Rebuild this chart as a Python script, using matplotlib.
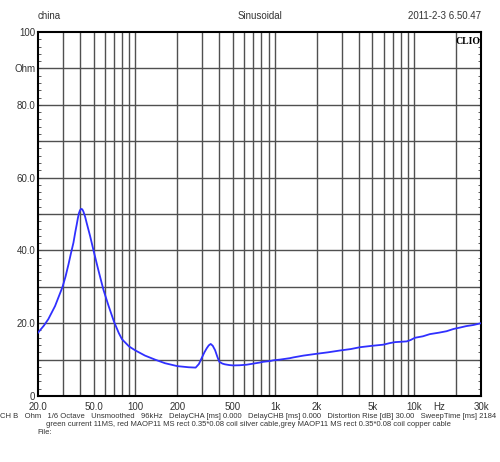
import numpy as np
import matplotlib
matplotlib.use('Agg')
import matplotlib.pyplot as plt
from matplotlib.ticker import FixedLocator, NullFormatter, MultipleLocator

plt.rcParams['font.family'] = ['Liberation Sans', 'DejaVu Sans']

# Impedance curve #
freq = [20, 22, 23.7, 26.5, 28.5, 30, 31.5, 33.1, 34.5, 35.9, 37, 37.9, 38.6, 39.3, 40.0, 40.7,
        41.5, 42.3, 43.5, 44.7, 47.3, 50, 54, 57, 59, 64.2, 70, 75.9, 80, 90, 100, 117, 138,
        163, 200, 240, 270, 285, 298, 312, 324, 335, 346, 358, 372, 386, 399, 420, 438, 470,
        502, 560, 627, 700, 781, 825, 921, 973, 1086, 1282, 1353, 1600, 1990, 2400, 2924,
        3500, 4066, 5000, 5980, 6600, 7250, 8000, 8790, 9400, 10090, 11500, 12900, 15000,
        17000, 19000, 21200, 23500, 26400, 30000]
imp = [17.4, 19.3, 21.1, 24.7, 27.8, 30.0, 32.8, 36.2, 39.3, 42.1, 45.0, 47.1, 48.8, 50.2, 51.0, 51.4,
       51.3, 50.7, 49.3, 47.5, 43.9, 40.0, 34.8, 31.3, 29.1, 24.7, 20.5, 17.3, 15.6, 13.6, 12.5, 11.1, 10.0,
       9.0, 8.2, 7.9, 7.8, 8.8, 10.4, 12.0, 13.1, 13.9, 14.3, 13.8, 12.6, 10.8, 9.4, 8.9, 8.7, 8.5,
       8.4, 8.45, 8.6, 8.9, 9.2, 9.4, 9.6, 9.8, 10.0, 10.4, 10.6, 11.1, 11.6, 12.0, 12.5,
       12.9, 13.4, 13.8, 14.1, 14.5, 14.8, 14.9, 15.0, 15.4, 16.0, 16.4, 17.0, 17.4,
       17.8, 18.4, 18.8, 19.2, 19.5, 20.0]

# Axis labels #
xgrid = [30, 40, 50, 60, 70, 80, 90, 100, 200, 300, 400, 500, 600, 700, 800, 900,
         1000, 2000, 3000, 4000, 5000, 6000, 7000, 8000, 9000, 10000, 20000]
xlab_pos = [20, 50, 100, 200, 500, 1000, 2000, 5000, 10000, 15000, 30000]
xlab_txt = ['20.0', '50.0', '100', '200', '500', '1k', '2k', '5k', '10k', 'Hz', '30k']
ylab_pos = [0, 20, 40, 60, 80, 90, 100]
ylab_txt = ['0', '20.0', '40.0', '60.0', '80.0', 'Ohm', '100']

fig = plt.figure(figsize=(5.0, 4.62), dpi=100)
ax = fig.add_axes([38 / 500, 66 / 462, 443 / 500, 364 / 462])

ax.set_xscale('log')
ax.set_xlim(20, 30000)
ax.set_ylim(0, 100)

for xv in xgrid:
    ax.axvline(xv, color='#505050', lw=1.0, zorder=1)
for yv in range(10, 100, 10):
    ax.axhline(yv, color='#505050', lw=1.0, zorder=1)

ax.plot(freq, imp, color='#3030ff', lw=1.3, zorder=3)

# Ticks #
ax.xaxis.set_major_locator(FixedLocator(xlab_pos))
ax.xaxis.set_minor_locator(FixedLocator([]))
ax.set_xticklabels(xlab_txt, fontsize=7, color='#333333')
ax.tick_params(axis='x', length=0, pad=4)
ax.set_yticks(ylab_pos)
ax.set_yticklabels(ylab_txt, fontsize=7, color='#333333')
ax.yaxis.set_minor_locator(MultipleLocator(2))
ax.yaxis.set_minor_formatter(NullFormatter())
ax.tick_params(axis='y', which='both', direction='in', length=2, width=0.6,
               right=True, left=True, color='#444444', pad=2)

for s in ax.spines.values():
    s.set_linewidth(1.5)
    s.set_color('black')

# Header and footer texts #
fig.text(38 / 500, 1 - 16 / 462, 'china', fontsize=7, color='#333333', ha='left', va='center')
fig.text(260 / 500, 1 - 16 / 462, 'Sinusoidal', fontsize=7, color='#333333', ha='center', va='center')
fig.text(481 / 500, 1 - 16 / 462, '2011-2-3 6.50.47', fontsize=7, color='#333333', ha='right', va='center')
ax.text(0.998, 0.985, 'CLIO', transform=ax.transAxes, fontsize=7, fontweight='bold',
        family='Liberation Serif', ha='right', va='top', zorder=5)

fig.text(0, 1 - 416 / 462, 'CH B   Ohm   1/6 Octave   Unsmoothed   96kHz   DelayCHA [ms] 0.000   '
         'DelayCHB [ms] 0.000   Distortion Rise [dB] 30.00   SweepTime [ms] 2184',
         fontsize=5.5, color='#333333', ha='left', va='center')
fig.text(46 / 500, 1 - 424 / 462, 'green current 11MS, red MAOP11 MS rect 0.35*0.08 coil silver cable,'
         'grey MAOP11 MS rect 0.35*0.08 coil copper cable',
         fontsize=5.5, color='#333333', ha='left', va='center')
fig.text(37 / 500, 1 - 433 / 462, 'File:', fontsize=5.5, color='#333333', ha='left', va='center')

fig.savefig('out.png', dpi=100)
